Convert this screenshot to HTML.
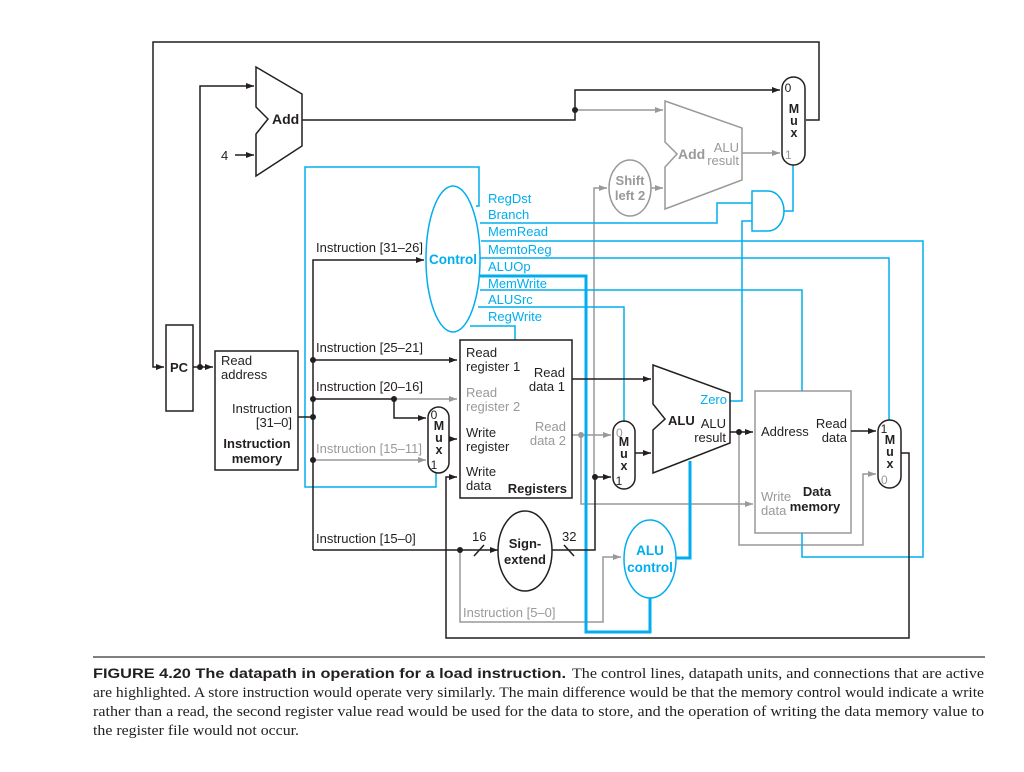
<!DOCTYPE html>
<html><head><meta charset="utf-8"><style>
html,body{margin:0;padding:0;background:#fff;}
svg{display:block;font-family:"Liberation Sans",sans-serif;}
</style></head><body>
<svg width="1024" height="772" viewBox="0 0 1024 772" xmlns="http://www.w3.org/2000/svg">
<defs>
<marker id="ak" markerWidth="8" markerHeight="6" refX="8" refY="3" orient="auto" markerUnits="userSpaceOnUse"><path d="M0,0 L8,3 L0,6 Z" fill="#231f20"/></marker>
<marker id="ag" markerWidth="8" markerHeight="6" refX="8" refY="3" orient="auto" markerUnits="userSpaceOnUse"><path d="M0,0 L8,3 L0,6 Z" fill="#999"/></marker>
</defs>
<rect width="1024" height="772" fill="#fff"/>

<!-- GRAY lines -->
<g fill="none" stroke="#999" stroke-width="1.5">
<polyline points="575,110 663,110" marker-end="url(#ag)"/>
<polyline points="742,153 780,153" marker-end="url(#ag)"/>
<polyline points="651,188 663,188" marker-end="url(#ag)"/>
<polyline points="594,477 594,188 607,188" marker-end="url(#ag)"/>
<polyline points="394,399 457,399" marker-end="url(#ag)"/>
<polyline points="313,460 426,460" marker-end="url(#ag)"/>
<polyline points="572,435 611,435" marker-end="url(#ag)"/>
<polyline points="581,435 581,504 753,504" marker-end="url(#ag)"/>
<polyline points="739,432 739,545 863,545 863,474 876,474" marker-end="url(#ag)"/>
<polyline points="460,550 460,622 603,622 603,557 621,557" marker-end="url(#ag)"/>
<path d="M665,101 L742,128 L742,180 L665,209 L665,167 L677,154 L665,142 Z"/>
<ellipse cx="630" cy="188" rx="21" ry="28"/>
<rect x="755" y="391" width="96" height="142"/>
</g>
<g fill="#999" font-size="13">
<text x="678" y="159" font-weight="bold" font-size="14">Add</text>
<text x="739" y="152" text-anchor="end">ALU</text>
<text x="739" y="165" text-anchor="end">result</text>
<text x="630" y="185" text-anchor="middle" font-weight="bold">Shift</text>
<text x="630" y="200" text-anchor="middle" font-weight="bold">left 2</text>
<text x="466" y="397">Read</text><text x="466" y="411">register 2</text>
<text x="566" y="431" text-anchor="end">Read</text><text x="566" y="445" text-anchor="end">data 2</text>
<text x="316" y="453">Instruction [15–11]</text>
<text x="463" y="617">Instruction [5–0]</text>
<text x="761" y="501">Write</text><text x="761" y="515">data</text>
<text x="616" y="437" font-size="12">0</text>
<text x="881" y="484" font-size="12">0</text>
<text x="785" y="159" font-size="12">1</text>
</g>
<circle cx="581" cy="435" r="3" fill="#999"/>

<!-- BLUE lines -->
<g fill="none" stroke="#00aeef" stroke-width="1.5">
<polyline points="476,206 479,206 479,167 305,167 305,487 436,487 436,473"/>
<polyline points="480,223 717,223 717,203 752,203"/>
<polyline points="481,241 923,241 923,557 802,557 802,533"/>
<polyline points="480,258 889,258 889,420"/>
<polyline points="480,290 802,290 802,391"/>
<polyline points="478,307 624,307 624,422"/>
<polyline points="470,326 515,326 515,340"/>
<polyline points="730,401 742,401 742,221 752,221"/>
<polyline points="784,211 793,211 793,165"/>
<path d="M752,191 L768,191 A16,20 0 0 1 768,231 L752,231 Z"/>
<ellipse cx="453" cy="259" rx="27" ry="73"/>
<ellipse cx="650" cy="559" rx="26" ry="39"/>
</g>
<g fill="none" stroke="#00aeef" stroke-width="3">
<polyline points="479,276 586,276 586,632 650,632 650,598"/>
<polyline points="690,461 690,558 676,558"/>
</g>
<g fill="#00aeef" font-size="13">
<text x="488" y="203">RegDst</text>
<text x="488" y="219">Branch</text>
<text x="488" y="236">MemRead</text>
<text x="488" y="254">MemtoReg</text>
<text x="488" y="271">ALUOp</text>
<text x="488" y="288">MemWrite</text>
<text x="488" y="304">ALUSrc</text>
<text x="488" y="321">RegWrite</text>
<text x="453" y="264" text-anchor="middle" font-weight="bold" font-size="13.5">Control</text>
<text x="650" y="555" text-anchor="middle" font-weight="bold" font-size="13.5">ALU</text>
<text x="650" y="572" text-anchor="middle" font-weight="bold" font-size="13.5">control</text>
<text x="727" y="404" text-anchor="end">Zero</text>
</g>

<!-- BLACK lines -->
<g fill="none" stroke="#231f20" stroke-width="1.5">
<polyline points="806,120 819,120 819,42 153,42 153,367 164,367" marker-end="url(#ak)"/>
<polyline points="193,367 213,367" marker-end="url(#ak)"/>
<polyline points="200,367 200,86 254,86" marker-end="url(#ak)"/>
<polyline points="235,155 254,155" marker-end="url(#ak)"/>
<polyline points="302,120 575,120 575,90 780,90" marker-end="url(#ak)"/>
<polyline points="298,417 313,417"/>
<polyline points="313,550 313,260 424,260" marker-end="url(#ak)"/>
<polyline points="313,360 457,360" marker-end="url(#ak)"/>
<polyline points="313,399 394,399 394,418 426,418" marker-end="url(#ak)"/>
<polyline points="449,439 457,439" marker-end="url(#ak)"/>
<polyline points="313,550 498,550" marker-end="url(#ak)"/>
<polyline points="552,550 595,550 595,477 611,477" marker-end="url(#ak)"/>
<polyline points="572,379 651,379" marker-end="url(#ak)"/>
<polyline points="635,453 651,453" marker-end="url(#ak)"/>
<polyline points="730,432 753,432" marker-end="url(#ak)"/>
<polyline points="851,431 876,431" marker-end="url(#ak)"/>
<polyline points="901,453 909,453 909,638 446,638 446,477 457,477" marker-end="url(#ak)"/>
<line x1="474" y1="556" x2="484" y2="545"/>
<line x1="564" y1="545" x2="574" y2="556"/>
<path d="M256,67 L302,94 L302,146 L256,176 L256,134 L268,119 L256,107 Z"/>
<path d="M653,365 L730,393 L730,443 L653,473 L653,430 L665,419 L653,404 Z"/>
<rect x="166" y="325" width="27" height="86"/>
<rect x="215" y="351" width="83" height="119"/>
<rect x="460" y="340" width="112" height="158"/>
<rect x="782" y="77" width="23" height="88" rx="11.5"/>
<rect x="428" y="407" width="21" height="66" rx="10.5"/>
<rect x="613" y="421" width="22" height="68" rx="11"/>
<rect x="878" y="420" width="23" height="68" rx="11.5"/>
<ellipse cx="525" cy="551" rx="27" ry="40"/>
</g>
<g fill="#231f20">
<circle cx="200" cy="367" r="3"/><circle cx="575" cy="110" r="3"/>
<circle cx="313" cy="417" r="3"/><circle cx="313" cy="360" r="3"/><circle cx="313" cy="399" r="3"/>
<circle cx="313" cy="460" r="3"/><circle cx="394" cy="399" r="3"/><circle cx="460" cy="550" r="3"/>
<circle cx="595" cy="477" r="3"/><circle cx="739" cy="432" r="3"/>
</g>
<g fill="#231f20" font-size="13">
<text x="272" y="124" font-weight="bold" font-size="14">Add</text>
<text x="221" y="160">4</text>
<text x="179" y="372" text-anchor="middle" font-weight="bold">PC</text>
<text x="221" y="365">Read</text><text x="221" y="379">address</text>
<text x="292" y="413" text-anchor="end">Instruction</text><text x="292" y="427" text-anchor="end">[31–0]</text>
<text x="257" y="448" text-anchor="middle" font-weight="bold">Instruction</text>
<text x="257" y="463" text-anchor="middle" font-weight="bold">memory</text>
<text x="316" y="252">Instruction [31–26]</text>
<text x="316" y="352">Instruction [25–21]</text>
<text x="316" y="391">Instruction [20–16]</text>
<text x="316" y="543">Instruction [15–0]</text>
<text x="466" y="357">Read</text><text x="466" y="371">register 1</text>
<text x="565" y="377" text-anchor="end">Read</text><text x="565" y="391" text-anchor="end">data 1</text>
<text x="466" y="437">Write</text><text x="466" y="451">register</text>
<text x="466" y="476">Write</text><text x="466" y="490">data</text>
<text x="567" y="493" text-anchor="end" font-weight="bold">Registers</text>
<text x="525" y="548" text-anchor="middle" font-weight="bold">Sign-</text>
<text x="525" y="564" text-anchor="middle" font-weight="bold">extend</text>
<text x="472" y="541">16</text><text x="562" y="541">32</text>
<text x="668" y="425" font-weight="bold">ALU</text>
<text x="726" y="428" text-anchor="end">ALU</text><text x="726" y="442" text-anchor="end">result</text>
<text x="761" y="436">Address</text>
<text x="847" y="428" text-anchor="end">Read</text><text x="847" y="442" text-anchor="end">data</text>
<text x="817" y="496" text-anchor="middle" font-weight="bold">Data</text>
<text x="815" y="511" text-anchor="middle" font-weight="bold">memory</text>
</g>
<g fill="#231f20" font-size="12.5" text-anchor="middle">
<text x="788" y="92" font-size="12">0</text>
<text x="794" y="113" font-weight="bold">M</text><text x="794" y="125" font-weight="bold">u</text><text x="794" y="137" font-weight="bold">x</text>
<text x="434" y="419" font-size="12">0</text>
<text x="439" y="430" font-weight="bold">M</text><text x="439" y="442" font-weight="bold">u</text><text x="439" y="454" font-weight="bold">x</text>
<text x="434" y="469" font-size="12">1</text>
<text x="624" y="446" font-weight="bold">M</text><text x="624" y="458" font-weight="bold">u</text><text x="624" y="470" font-weight="bold">x</text>
<text x="619" y="485" font-size="12">1</text>
<text x="884" y="433" font-size="12">1</text>
<text x="890" y="444" font-weight="bold">M</text><text x="890" y="456" font-weight="bold">u</text><text x="890" y="468" font-weight="bold">x</text>
</g>

<!-- caption -->
<line x1="93" y1="657" x2="985" y2="657" stroke="#555" stroke-width="1.5"/>
<g font-family="'Liberation Serif',serif" font-size="15" fill="#231f20">
<text x="93" y="678" font-family="'Liberation Sans',sans-serif" font-weight="bold" font-size="13.5" textLength="473" lengthAdjust="spacingAndGlyphs">FIGURE 4.20   The datapath in operation for a load instruction.</text>
<text x="572" y="678" textLength="412" lengthAdjust="spacingAndGlyphs">The control lines, datapath units, and connections that are active</text>
<text x="93" y="697" textLength="891" lengthAdjust="spacingAndGlyphs">are highlighted. A store instruction would operate very similarly. The main difference would be that the memory control would indicate a write</text>
<text x="93" y="716" textLength="891" lengthAdjust="spacingAndGlyphs">rather than a read, the second register value read would be used for the data to store, and the operation of writing the data memory value to</text>
<text x="93" y="735" textLength="206" lengthAdjust="spacingAndGlyphs">the register file would not occur.</text>
</g>
</svg>
</body></html>
